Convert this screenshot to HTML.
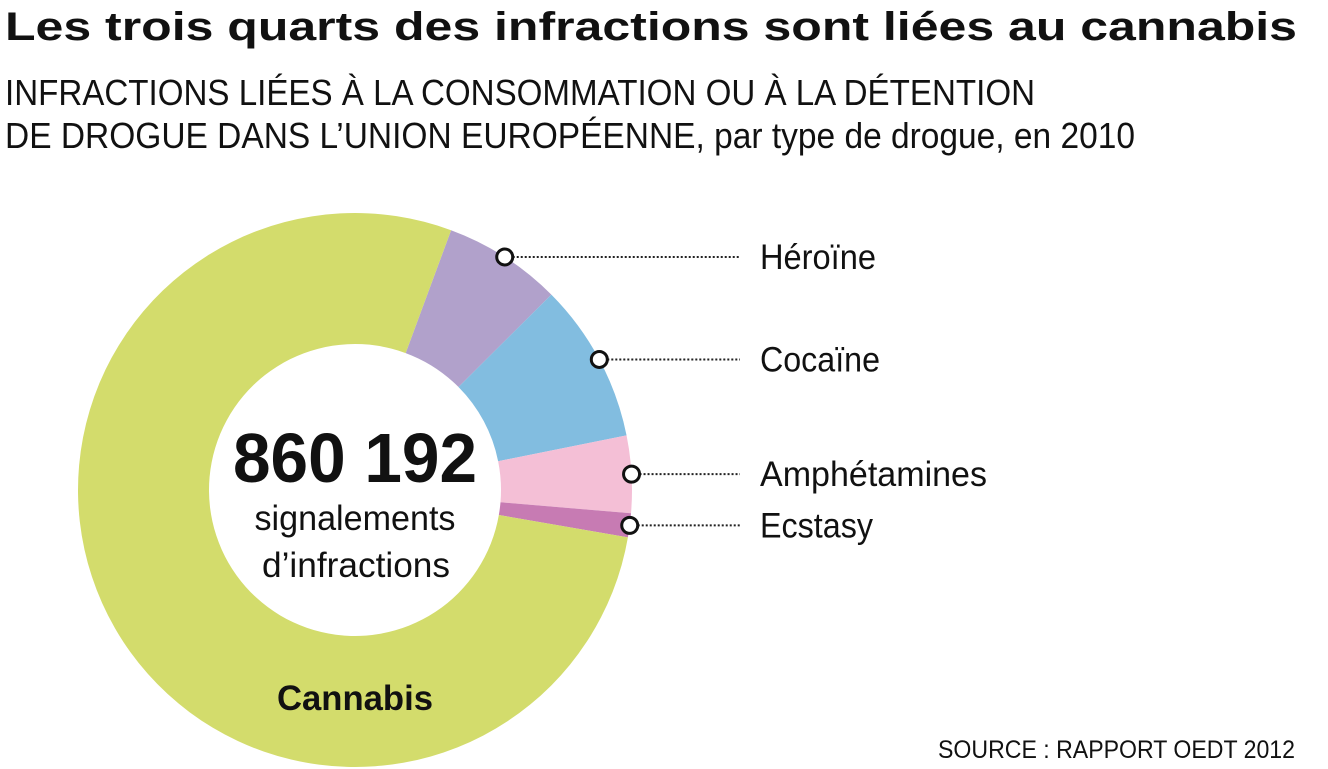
<!DOCTYPE html>
<html><head><meta charset="utf-8">
<style>
html,body{margin:0;padding:0;background:#fff;}
svg{display:block;}
text{font-family:"Liberation Sans",sans-serif;fill:#111;}
</style></head>
<body>
<svg id="chart" width="1328" height="769" viewBox="0 0 1328 769">
  <text x="5" y="40" font-size="40" font-weight="bold" textLength="1292" lengthAdjust="spacingAndGlyphs">Les trois quarts des infractions sont liées au cannabis</text>
  <text x="5" y="105" font-size="36" fill="#222" textLength="1030" lengthAdjust="spacingAndGlyphs">INFRACTIONS LIÉES À LA CONSOMMATION OU À LA DÉTENTION</text>
  <text x="5" y="148" font-size="36" fill="#222" textLength="1130" lengthAdjust="spacingAndGlyphs">DE DROGUE DANS L’UNION EUROPÉENNE, par type de drogue, en 2010</text>
  <g id="slices"></g>
  <g id="labels"></g>
  <text x="355" y="482" font-size="70" font-weight="bold" text-anchor="middle" textLength="244" lengthAdjust="spacingAndGlyphs">860 192</text>
  <text x="355" y="530" font-size="35" text-anchor="middle" textLength="201" lengthAdjust="spacingAndGlyphs">signalements</text>
  <text x="356" y="577" font-size="35" text-anchor="middle" textLength="188" lengthAdjust="spacingAndGlyphs">d’infractions</text>
  <text x="355" y="710" font-size="35" font-weight="bold" text-anchor="middle" textLength="156" lengthAdjust="spacingAndGlyphs">Cannabis</text>
  <text x="1295" y="758" font-size="25" fill="#222" text-anchor="end" textLength="357" lengthAdjust="spacingAndGlyphs">SOURCE : RAPPORT OEDT 2012</text>
</svg>
<script>
const categories = ["Héroïne", "Cocaïne", "Amphétamines", "Ecstasy", "Cannabis"];
const shares = [6.9, 9.3, 4.5, 1.4, 77.9];
const colors = ["#b1a1cb", "#82bde0", "#f4bfd6", "#c77bb3", "#d3dc6c"];
const labelled = [true, true, true, true, false];
const startAngle = 20.3;
const labelWidths = [116, 120, 227, 113];

const cx = 355, cy = 490, rOut = 277, rIn = 146;
const NS = "http://www.w3.org/2000/svg";
const total = shares.reduce((a, b) => a + b, 0);
function pt(angDeg, r) { const a = angDeg * Math.PI / 180; return [cx + r * Math.sin(a), cy - r * Math.cos(a)]; }
const gS = document.getElementById("slices"), gL = document.getElementById("labels");
let a0 = startAngle;
shares.forEach((v, i) => {
  const sweep = v / total * 360, a1 = a0 + sweep, large = sweep > 180 ? 1 : 0;
  const [x0, y0] = pt(a0, rOut), [x1, y1] = pt(a1, rOut), [x2, y2] = pt(a1, rIn), [x3, y3] = pt(a0, rIn);
  const p = document.createElementNS(NS, "path");
  p.setAttribute("d", `M${x0},${y0} A${rOut},${rOut} 0 ${large} 1 ${x1},${y1} L${x2},${y2} A${rIn},${rIn} 0 ${large} 0 ${x3},${y3} Z`);
  p.setAttribute("fill", colors[i]);
  
  
  gS.appendChild(p);
  if (labelled[i]) {
    const [dx, dy] = pt(a0 + sweep / 2, rOut);
    const ln = document.createElementNS(NS, "line");
    ln.setAttribute("x1", dx); ln.setAttribute("y1", dy); ln.setAttribute("x2", 740); ln.setAttribute("y2", dy);
    ln.setAttribute("stroke", "#222"); ln.setAttribute("stroke-width", "2"); ln.setAttribute("stroke-dasharray", "2 2");
    
    
    gL.appendChild(ln);
    const c = document.createElementNS(NS, "circle");
    c.setAttribute("cx", dx); c.setAttribute("cy", dy); c.setAttribute("r", 8);
    c.setAttribute("fill", "#fff"); c.setAttribute("stroke", "#111"); c.setAttribute("stroke-width", "3");
    
    
    gL.appendChild(c);
    const t = document.createElementNS(NS, "text");
    t.setAttribute("x", 760); t.setAttribute("y", dy + 12); t.setAttribute("font-size", "35");
    t.setAttribute("textLength", labelWidths[i]); t.setAttribute("lengthAdjust", "spacingAndGlyphs");
    t.textContent = categories[i];
    
    
    gL.appendChild(t);
  }
  a0 = a1;
});
</script>
</body></html>
